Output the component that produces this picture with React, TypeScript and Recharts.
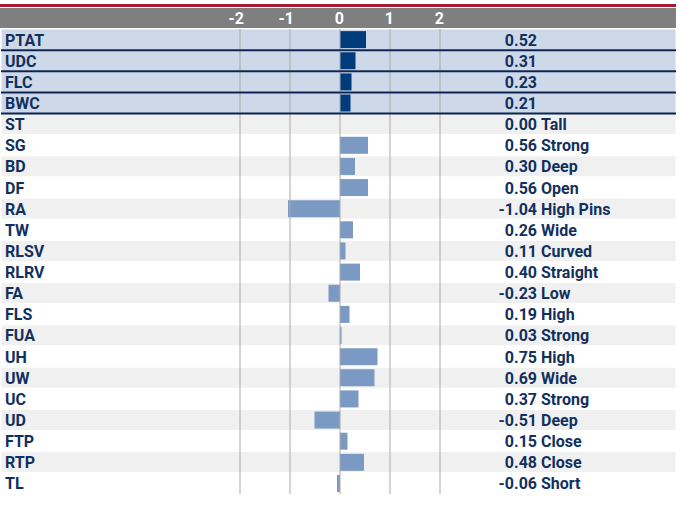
import { BarChart, Bar, XAxis, YAxis, Cell, ReferenceArea, ReferenceLine } from 'recharts';

const categories = ['PTAT', 'UDC', 'FLC', 'BWC', 'ST', 'SG', 'BD', 'DF', 'RA', 'TW', 'RLSV', 'RLRV', 'FA', 'FLS', 'FUA', 'UH', 'UW', 'UC', 'UD', 'FTP', 'RTP', 'TL'];
const scores = [0.52, 0.31, 0.23, 0.21, 0.0, 0.56, 0.3, 0.56, -1.04, 0.26, 0.11, 0.4, -0.23, 0.19, 0.03, 0.75, 0.69, 0.37, -0.51, 0.15, 0.48, -0.06];
const descriptors = ['', '', '', '', 'Tall', 'Strong', 'Deep', 'Open', 'High Pins', 'Wide', 'Curved', 'Straight', 'Low', 'High', 'Strong', 'High', 'Wide', 'Strong', 'Deep', 'Close', 'Close', 'Short'];
const highlighted = ['PTAT', 'UDC', 'FLC', 'BWC'];
const axisTicks = [-2, -1, 0, 1, 2];

const data = categories.map((name, i) => ({ name, value: scores[i], desc: descriptors[i] }));

const NAVY = '#12305e';
const FONT = "Roboto, 'DejaVu Sans', sans-serif";
const VALUE_COL_X = 537;

const rowFill = (name: string, i: number) =>
  highlighted.includes(name) ? '#cdd8e8' : i % 2 === 0 ? '#f0f0f0' : '#ffffff';

// left name + right value/descriptor columns, drawn from the category tick
const RowTick = ({ y, payload }: any) => {
  const i = categories.indexOf(payload.value);
  const row = data[i];
  return (
    <g fontFamily={FONT} fontWeight={700} fontSize={16} fill={NAVY}>
      <text x={5} y={y} dy={6}>{payload.value}</text>
      <text x={VALUE_COL_X} y={y} dy={6} textAnchor="end">{row.value.toFixed(2)}</text>
      {row.desc && <text x={VALUE_COL_X + 4} y={y} dy={6}>{row.desc}</text>}
    </g>
  );
};

const TopTick = ({ x, payload }: any) => (
  <text x={x + 4} y={24} textAnchor="end" fill="#ffffff" fontFamily={FONT} fontWeight={700} fontSize={16}>
    {payload.value}
  </text>
);

export default function App() {
  return (
    <div style={{ position: 'relative', width: 681, height: 509, background: '#fff' }}>
      <style>{'body{margin:0}'}</style>
      <div style={{ position: 'absolute', left: 0, top: 4, width: 676, height: 3, background: '#a31b2e' }} />
      <div style={{ position: 'absolute', left: 0, top: 8, width: 676, height: 20, background: '#7f7f7f' }} />
      <div style={{ position: 'absolute', left: 0, top: 0 }}>
        <BarChart
          width={681}
          height={509}
          data={data}
          layout="vertical"
          margin={{ top: 8, right: 5, bottom: 15, left: 0 }}
          barCategoryGap="10%"
        >
          <XAxis
            type="number"
            orientation="top"
            domain={[-6.78, 6.72]}
            ticks={axisTicks}
            height={21}
            axisLine={false}
            tickLine={false}
            tick={<TopTick />}
          />
          <YAxis
            type="category"
            dataKey="name"
            width={1}
            axisLine={false}
            tickLine={false}
            tick={<RowTick />}
            interval={0}
          />
          {categories.map((c, i) => (
            <ReferenceArea key={c} y1={c} y2={c} fill={rowFill(c, i)} fillOpacity={1} stroke="#ffffff" strokeWidth={1} />
          ))}
          {axisTicks.map((t) => (
            <ReferenceLine key={t} x={t} stroke="#aaaaaa" strokeWidth={1} />
          ))}
          {highlighted.map((c) => (
            <ReferenceLine key={c} y={c} position="end" stroke="#0c2452" strokeWidth={2} />
          ))}
          <Bar dataKey="value" isAnimationActive={false}>
            {data.map((d) => (
              <Cell key={d.name} fill={highlighted.includes(d.name) ? '#003b7b' : '#7b9ac3'} />
            ))}
          </Bar>
        </BarChart>
      </div>
    </div>
  );
}
